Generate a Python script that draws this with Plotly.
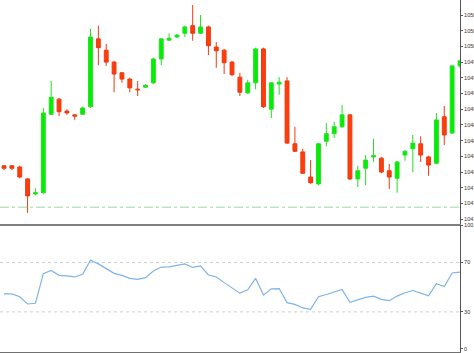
import plotly.graph_objects as go

# ---- data ----
bar_index = list(range(59))
open_ = [10481.0, 10481.0, 10480.8, 10478.9, 10476.5, 10476.7, 10489.2, 10491.6, 10489.7, 10489.1,
         10489.2, 10490.4, 10501.2, 10499.4, 10497.5, 10495.8, 10494.8, 10493.2, 10493.5, 10494.2,
         10498.0, 10501.0, 10501.5, 10502.1, 10503.3, 10502.1, 10503.1, 10499.9, 10499.4, 10497.5,
         10495.1, 10492.6, 10494.2, 10499.6, 10490.0, 10494.0, 10494.5, 10484.5, 10483.2, 10479.2,
         10478.1, 10484.9, 10486.1, 10487.2, 10489.1, 10478.9, 10480.6, 10482.4, 10482.2, 10480.2,
         10479.0, 10482.7, 10483.7, 10484.5, 10482.4, 10481.4, 10488.8, 10486.2, 10496.9]
high = [10481.0, 10481.0, 10481.0, 10479.0, 10477.4, 10490.2, 10494.5, 10491.8, 10490.0, 10489.1,
        10490.4, 10502.8, 10503.3, 10500.4, 10497.7, 10495.9, 10495.0, 10494.5, 10494.0, 10498.2,
        10501.3, 10502.1, 10502.0, 10503.3, 10506.6, 10505.0, 10503.3, 10500.7, 10499.6, 10497.7,
        10495.8, 10494.7, 10499.8, 10499.8, 10494.3, 10495.1, 10495.1, 10487.2, 10483.7, 10481.9,
        10484.6, 10487.8, 10488.0, 10490.7, 10489.2, 10481.0, 10482.7, 10485.3, 10482.4, 10481.3,
        10481.8, 10483.5, 10485.9, 10485.7, 10482.6, 10489.4, 10490.5, 10497.0, 10497.8]
low = [10480.3, 10480.3, 10479.0, 10473.5, 10476.3, 10476.5, 10489.1, 10488.9, 10489.1, 10488.3,
       10489.1, 10490.2, 10497.0, 10496.9, 10492.7, 10494.2, 10492.7, 10492.1, 10493.4, 10494.0,
       10497.0, 10500.9, 10501.3, 10501.5, 10500.9, 10502.0, 10498.6, 10496.6, 10495.6, 10495.3,
       10492.1, 10492.4, 10493.2, 10490.2, 10488.6, 10492.3, 10484.5, 10483.2, 10479.7, 10478.1,
       10477.9, 10484.1, 10485.4, 10487.0, 10478.7, 10477.6, 10477.9, 10481.6, 10479.8, 10477.3,
       10476.7, 10481.8, 10480.0, 10481.6, 10479.4, 10481.3, 10484.3, 10486.1, 10496.6]
close = [10480.6, 10480.6, 10479.2, 10476.2, 10476.7, 10489.4, 10491.9, 10489.6, 10489.4, 10488.9,
         10490.2, 10501.5, 10499.8, 10497.5, 10495.6, 10494.8, 10493.4, 10493.1, 10493.8, 10498.0,
         10501.2, 10501.3, 10501.8, 10503.1, 10502.1, 10503.1, 10500.1, 10499.3, 10497.4, 10495.5,
         10492.7, 10494.2, 10499.6, 10490.4, 10494.2, 10494.3, 10484.6, 10483.3, 10479.8, 10478.3,
         10484.5, 10486.1, 10487.2, 10489.1, 10478.9, 10480.2, 10481.9, 10482.6, 10480.0, 10479.2,
         10481.6, 10483.3, 10484.6, 10482.7, 10481.1, 10488.3, 10485.9, 10496.9, 10497.7]
rsi = [44.6, 44.6, 42.3, 36.4, 37.0, 61.0, 63.6, 59.6, 59.1, 58.3,
       60.4, 71.9, 68.9, 64.9, 61.2, 59.6, 57.2, 56.4, 57.7, 63.1,
       66.3, 66.5, 67.6, 68.9, 66.0, 67.3, 59.9, 58.3, 53.7, 49.7,
       45.2, 47.9, 57.2, 43.6, 48.7, 48.9, 37.5, 36.1, 33.2, 32.1,
       42.3, 44.1, 46.0, 48.1, 37.7, 39.6, 41.7, 42.8, 40.1, 39.1,
       42.8, 45.5, 47.3, 45.2, 43.0, 52.9, 50.6, 61.5, 62.3]
price_level = 10474.4
rsi_levels = [30, 70]
price_ticks = [10472.5, 10475.0, 10477.5, 10480.0, 10482.5, 10485.0, 10487.5,
               10490.0, 10492.5, 10495.0, 10497.5, 10500.0, 10502.5, 10505.0]
price_tick_text = ["%.1f" % v for v in price_ticks]
rsi_ticks = [0, 30, 70, 100]
rsi_tick_text = ["0", "30", "70", "100"]
time_ticks = list(range(1, 59, 4))

fig = go.Figure()
fig.add_trace(go.Candlestick(
    x=bar_index, open=open_, high=high, low=low, close=close,
    increasing=dict(fillcolor="#00f000", line=dict(color="#22e022", width=1)),
    decreasing=dict(fillcolor="#ff3c0a", line=dict(color="#ee3a10", width=1)),
    whiskerwidth=0, xaxis="x", yaxis="y", showlegend=False,
))
fig.add_trace(go.Scatter(
    x=bar_index, y=rsi, mode="lines", line=dict(color="#7db3ea", width=1.2),
    xaxis="x2", yaxis="y2", showlegend=False,
))

# reference level lines
fig.add_shape(type="line", xref="x domain", yref="y", x0=0, x1=1, y0=price_level, y1=price_level,
              line=dict(color="#9ed8a0", width=1, dash="dashdot"))
for lv in rsi_levels:
    fig.add_shape(type="line", xref="x2 domain", yref="y2", x0=0, x1=1, y0=lv, y1=lv,
                  line=dict(color="#cfcfcf", width=1, dash="dot"))

font = dict(family="Liberation Sans, Arial, sans-serif", size=5.5, color="#333333")
fig.update_layout(
    width=474, height=353,
    margin=dict(l=0, r=14, t=0, b=1, autoexpand=False),
    paper_bgcolor="white", plot_bgcolor="white",
    font=font,
    xaxis=dict(domain=[0, 1], anchor="y", range=[-0.51, 58], showgrid=False, zeroline=False,
               showticklabels=False, showline=True, linecolor="#808080", linewidth=2,
               rangeslider=dict(visible=False), ticks="", automargin=False),
    yaxis=dict(domain=[0.3636, 1], anchor="x", side="right", range=[10471.72, 10507.39],
               tickvals=price_ticks, ticktext=price_tick_text, showgrid=False, zeroline=False,
               showline=True, linecolor="#555555", linewidth=1, ticks="outside", ticklen=2,
               tickcolor="#555555", tickfont=font, automargin=False, ticklabelstandoff=0),
    xaxis2=dict(domain=[0, 1], anchor="y2", range=[-0.51, 58], showgrid=False, zeroline=False,
                showticklabels=False, showline=True, linecolor="#707070", linewidth=1,
                tickvals=time_ticks, ticks="outside", ticklen=3, tickcolor="#707070",
                automargin=False),
    yaxis2=dict(domain=[0, 0.3594], anchor="x2", side="right", range=[-2.5, 100],
                tickvals=rsi_ticks, ticktext=rsi_tick_text, showgrid=False, zeroline=False,
                showline=True, linecolor="#555555", linewidth=1, ticks="outside", ticklen=2,
                tickcolor="#555555", tickfont=font, automargin=False, ticklabelstandoff=0),
)

fig.write_html("out.html")
